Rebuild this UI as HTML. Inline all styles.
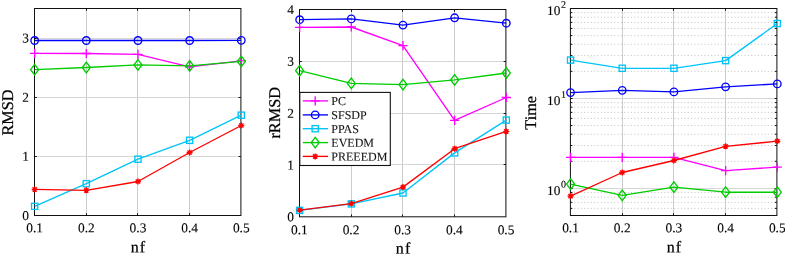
<!DOCTYPE html>
<html><head><meta charset="utf-8"><title>plots</title>
<style>html,body{margin:0;padding:0;background:#fff}svg{display:block}text{stroke:#000;stroke-width:.25px;text-rendering:geometricPrecision}text.lg{stroke-width:.08px;fill:#111}text.lt{stroke-width:.1px}text.tk{stroke-width:.1px}</style></head>
<body>
<svg width="785" height="259" viewBox="0 0 785 259" font-family='"Liberation Serif", "DejaVu Serif", serif' fill="#000">
<rect width="785" height="259" fill="#fff"/>
<line x1="86.5" y1="8.5" x2="86.5" y2="215.5" stroke="#cccccc" stroke-width="1"/>
<line x1="137.5" y1="8.5" x2="137.5" y2="215.5" stroke="#cccccc" stroke-width="1"/>
<line x1="189.5" y1="8.5" x2="189.5" y2="215.5" stroke="#cccccc" stroke-width="1"/>
<line x1="34.5" y1="156.5" x2="240.9" y2="156.5" stroke="#d6d6d6" stroke-width="1"/>
<line x1="34.5" y1="97.5" x2="240.9" y2="97.5" stroke="#d6d6d6" stroke-width="1"/>
<line x1="34.5" y1="38.5" x2="240.9" y2="38.5" stroke="#d6d6d6" stroke-width="1"/>
<path d="M86.5 215.5v-2.3M86.5 8.5v2.3" stroke="#111" stroke-width="1"/>
<path d="M137.5 215.5v-2.3M137.5 8.5v2.3" stroke="#111" stroke-width="1"/>
<path d="M189.5 215.5v-2.3M189.5 8.5v2.3" stroke="#111" stroke-width="1"/>
<path d="M34.5 156.5h2.3M240.9 156.5h-2.3" stroke="#111" stroke-width="1"/>
<path d="M34.5 97.5h2.3M240.9 97.5h-2.3" stroke="#111" stroke-width="1"/>
<path d="M34.5 38.5h2.3M240.9 38.5h-2.3" stroke="#111" stroke-width="1"/>
<rect x="34.5" y="8.5" width="206.4" height="207.0" fill="none" stroke="#111" stroke-width="1"/>
<polyline points="34.65,40.50 86.31,40.50 137.97,40.50 189.64,40.50 241.30,40.30" stroke="#0000ff" stroke-width="1.35" fill="none" stroke-linejoin="round"/><circle cx="34.65" cy="40.50" r="3.75" stroke="#0000ff" stroke-width="1.35" fill="none"/><circle cx="86.31" cy="40.50" r="3.75" stroke="#0000ff" stroke-width="1.35" fill="none"/><circle cx="137.97" cy="40.50" r="3.75" stroke="#0000ff" stroke-width="1.35" fill="none"/><circle cx="189.64" cy="40.50" r="3.75" stroke="#0000ff" stroke-width="1.35" fill="none"/><circle cx="241.30" cy="40.30" r="3.75" stroke="#0000ff" stroke-width="1.35" fill="none"/>
<polyline points="34.65,53.30 86.31,53.50 137.97,54.40 189.64,66.90 241.30,60.90" stroke="#ff00ff" stroke-width="1.35" fill="none" stroke-linejoin="round"/><path d="M30.05 53.30H39.25M34.65 48.70V57.90" stroke="#ff00ff" stroke-width="1.35" fill="none"/><path d="M81.71 53.50H90.91M86.31 48.90V58.10" stroke="#ff00ff" stroke-width="1.35" fill="none"/><path d="M133.38 54.40H142.57M137.97 49.80V59.00" stroke="#ff00ff" stroke-width="1.35" fill="none"/><path d="M185.04 66.90H194.24M189.64 62.30V71.50" stroke="#ff00ff" stroke-width="1.35" fill="none"/><path d="M236.70 60.90H245.90M241.30 56.30V65.50" stroke="#ff00ff" stroke-width="1.35" fill="none"/>
<polyline points="34.65,69.70 86.31,67.50 137.97,64.90 189.64,65.80 241.30,61.40" stroke="#00cc00" stroke-width="1.35" fill="none" stroke-linejoin="round"/><path d="M30.65 69.70L34.65 64.40L38.65 69.70L34.65 75.00Z" stroke="#00cc00" stroke-width="1.35" fill="none"/><path d="M82.31 67.50L86.31 62.20L90.31 67.50L86.31 72.80Z" stroke="#00cc00" stroke-width="1.35" fill="none"/><path d="M133.97 64.90L137.97 59.60L141.97 64.90L137.97 70.20Z" stroke="#00cc00" stroke-width="1.35" fill="none"/><path d="M185.64 65.80L189.64 60.50L193.64 65.80L189.64 71.10Z" stroke="#00cc00" stroke-width="1.35" fill="none"/><path d="M237.30 61.40L241.30 56.10L245.30 61.40L241.30 66.70Z" stroke="#00cc00" stroke-width="1.35" fill="none"/>
<polyline points="34.65,206.30 86.31,183.70 137.97,159.20 189.64,140.30 241.30,115.20" stroke="#00c4f8" stroke-width="1.35" fill="none" stroke-linejoin="round"/><rect x="31.55" y="203.20" width="6.2" height="6.2" stroke="#00c4f8" stroke-width="1.35" fill="none"/><rect x="83.21" y="180.60" width="6.2" height="6.2" stroke="#00c4f8" stroke-width="1.35" fill="none"/><rect x="134.88" y="156.10" width="6.2" height="6.2" stroke="#00c4f8" stroke-width="1.35" fill="none"/><rect x="186.54" y="137.20" width="6.2" height="6.2" stroke="#00c4f8" stroke-width="1.35" fill="none"/><rect x="238.20" y="112.10" width="6.2" height="6.2" stroke="#00c4f8" stroke-width="1.35" fill="none"/>
<polyline points="34.65,189.40 86.31,190.30 137.97,181.50 189.64,152.50 241.30,125.50" stroke="#ff0000" stroke-width="1.35" fill="none" stroke-linejoin="round"/><path d="M31.65 189.40H37.65M34.65 186.40V192.40M32.53 187.28L36.77 191.52M32.53 191.52L36.77 187.28" stroke="#ff0000" stroke-width="1.35" fill="none"/><path d="M83.31 190.30H89.31M86.31 187.30V193.30M84.19 188.18L88.43 192.42M84.19 192.42L88.43 188.18" stroke="#ff0000" stroke-width="1.35" fill="none"/><path d="M134.97 181.50H140.97M137.97 178.50V184.50M135.85 179.38L140.10 183.62M135.85 183.62L140.10 179.38" stroke="#ff0000" stroke-width="1.35" fill="none"/><path d="M186.64 152.50H192.64M189.64 149.50V155.50M187.52 150.38L191.76 154.62M187.52 154.62L191.76 150.38" stroke="#ff0000" stroke-width="1.35" fill="none"/><path d="M238.30 125.50H244.30M241.30 122.50V128.50M239.18 123.38L243.42 127.62M239.18 127.62L243.42 123.38" stroke="#ff0000" stroke-width="1.35" fill="none"/>
<g transform="translate(34.65,232.35) rotate(0.05)"><text font-size="13.4" text-anchor="middle" class="tk">0.1</text></g>
<g transform="translate(86.31,232.35) rotate(0.05)"><text font-size="13.4" text-anchor="middle" class="tk">0.2</text></g>
<g transform="translate(137.97,232.35) rotate(0.05)"><text font-size="13.4" text-anchor="middle" class="tk">0.3</text></g>
<g transform="translate(189.64,232.35) rotate(0.05)"><text font-size="13.4" text-anchor="middle" class="tk">0.4</text></g>
<g transform="translate(241.30,232.35) rotate(0.05)"><text font-size="13.4" text-anchor="middle" class="tk">0.5</text></g>
<g transform="translate(29.00,220.00) rotate(0.05)"><text font-size="13.4" text-anchor="end" class="tk">0</text></g>
<g transform="translate(29.00,160.86) rotate(0.05)"><text font-size="13.4" text-anchor="end" class="tk">1</text></g>
<g transform="translate(29.00,101.71) rotate(0.05)"><text font-size="13.4" text-anchor="end" class="tk">2</text></g>
<g transform="translate(29.00,42.57) rotate(0.05)"><text font-size="13.4" text-anchor="end" class="tk">3</text></g>
<text transform="translate(13.3,112.5) rotate(-90)" font-size="16.3" text-anchor="middle">RMSD</text>
<g transform="translate(138.50,252.30) rotate(0.05)"><text font-size="16" text-anchor="middle" letter-spacing="1.1">nf</text></g>
<line x1="351.5" y1="9.5" x2="351.5" y2="216.8" stroke="#cccccc" stroke-width="1"/>
<line x1="402.5" y1="9.5" x2="402.5" y2="216.8" stroke="#cccccc" stroke-width="1"/>
<line x1="454.5" y1="9.5" x2="454.5" y2="216.8" stroke="#cccccc" stroke-width="1"/>
<line x1="299.5" y1="164.5" x2="505.9" y2="164.5" stroke="#d6d6d6" stroke-width="1"/>
<line x1="299.5" y1="113.5" x2="505.9" y2="113.5" stroke="#d6d6d6" stroke-width="1"/>
<line x1="299.5" y1="61.5" x2="505.9" y2="61.5" stroke="#d6d6d6" stroke-width="1"/>
<path d="M351.5 216.8v-2.3M351.5 9.5v2.3" stroke="#111" stroke-width="1"/>
<path d="M402.5 216.8v-2.3M402.5 9.5v2.3" stroke="#111" stroke-width="1"/>
<path d="M454.5 216.8v-2.3M454.5 9.5v2.3" stroke="#111" stroke-width="1"/>
<path d="M299.5 164.5h2.3M505.9 164.5h-2.3" stroke="#111" stroke-width="1"/>
<path d="M299.5 113.5h2.3M505.9 113.5h-2.3" stroke="#111" stroke-width="1"/>
<path d="M299.5 61.5h2.3M505.9 61.5h-2.3" stroke="#111" stroke-width="1"/>
<rect x="299.5" y="9.5" width="206.39999999999998" height="207.3" fill="none" stroke="#111" stroke-width="1"/>
<polyline points="299.65,19.70 351.31,18.90 402.98,25.10 454.64,17.80 506.30,23.20" stroke="#0000ff" stroke-width="1.35" fill="none" stroke-linejoin="round"/><circle cx="299.65" cy="19.70" r="3.75" stroke="#0000ff" stroke-width="1.35" fill="none"/><circle cx="351.31" cy="18.90" r="3.75" stroke="#0000ff" stroke-width="1.35" fill="none"/><circle cx="402.98" cy="25.10" r="3.75" stroke="#0000ff" stroke-width="1.35" fill="none"/><circle cx="454.64" cy="17.80" r="3.75" stroke="#0000ff" stroke-width="1.35" fill="none"/><circle cx="506.30" cy="23.20" r="3.75" stroke="#0000ff" stroke-width="1.35" fill="none"/>
<polyline points="299.65,27.40 351.31,27.00 402.98,45.60 454.64,120.30 506.30,97.50" stroke="#ff00ff" stroke-width="1.35" fill="none" stroke-linejoin="round"/><path d="M295.05 27.40H304.25M299.65 22.80V32.00" stroke="#ff00ff" stroke-width="1.35" fill="none"/><path d="M346.71 27.00H355.91M351.31 22.40V31.60" stroke="#ff00ff" stroke-width="1.35" fill="none"/><path d="M398.38 45.60H407.58M402.98 41.00V50.20" stroke="#ff00ff" stroke-width="1.35" fill="none"/><path d="M450.04 120.30H459.24M454.64 115.70V124.90" stroke="#ff00ff" stroke-width="1.35" fill="none"/><path d="M501.70 97.50H510.90M506.30 92.90V102.10" stroke="#ff00ff" stroke-width="1.35" fill="none"/>
<polyline points="299.65,70.70 351.31,83.40 402.98,84.60 454.64,79.90 506.30,73.00" stroke="#00cc00" stroke-width="1.35" fill="none" stroke-linejoin="round"/><path d="M295.65 70.70L299.65 65.40L303.65 70.70L299.65 76.00Z" stroke="#00cc00" stroke-width="1.35" fill="none"/><path d="M347.31 83.40L351.31 78.10L355.31 83.40L351.31 88.70Z" stroke="#00cc00" stroke-width="1.35" fill="none"/><path d="M398.98 84.60L402.98 79.30L406.98 84.60L402.98 89.90Z" stroke="#00cc00" stroke-width="1.35" fill="none"/><path d="M450.64 79.90L454.64 74.60L458.64 79.90L454.64 85.20Z" stroke="#00cc00" stroke-width="1.35" fill="none"/><path d="M502.30 73.00L506.30 67.70L510.30 73.00L506.30 78.30Z" stroke="#00cc00" stroke-width="1.35" fill="none"/>
<polyline points="299.65,210.40 351.31,203.90 402.98,193.00 454.64,152.90 506.30,120.10" stroke="#00c4f8" stroke-width="1.35" fill="none" stroke-linejoin="round"/><rect x="296.55" y="207.30" width="6.2" height="6.2" stroke="#00c4f8" stroke-width="1.35" fill="none"/><rect x="348.21" y="200.80" width="6.2" height="6.2" stroke="#00c4f8" stroke-width="1.35" fill="none"/><rect x="399.88" y="189.90" width="6.2" height="6.2" stroke="#00c4f8" stroke-width="1.35" fill="none"/><rect x="451.54" y="149.80" width="6.2" height="6.2" stroke="#00c4f8" stroke-width="1.35" fill="none"/><rect x="503.20" y="117.00" width="6.2" height="6.2" stroke="#00c4f8" stroke-width="1.35" fill="none"/>
<polyline points="299.65,210.20 351.31,203.60 402.98,187.10 454.64,148.70 506.30,131.40" stroke="#ff0000" stroke-width="1.35" fill="none" stroke-linejoin="round"/><path d="M296.65 210.20H302.65M299.65 207.20V213.20M297.53 208.08L301.77 212.32M297.53 212.32L301.77 208.08" stroke="#ff0000" stroke-width="1.35" fill="none"/><path d="M348.31 203.60H354.31M351.31 200.60V206.60M349.19 201.48L353.43 205.72M349.19 205.72L353.43 201.48" stroke="#ff0000" stroke-width="1.35" fill="none"/><path d="M399.98 187.10H405.98M402.98 184.10V190.10M400.85 184.98L405.10 189.22M400.85 189.22L405.10 184.98" stroke="#ff0000" stroke-width="1.35" fill="none"/><path d="M451.64 148.70H457.64M454.64 145.70V151.70M452.52 146.58L456.76 150.82M452.52 150.82L456.76 146.58" stroke="#ff0000" stroke-width="1.35" fill="none"/><path d="M503.30 131.40H509.30M506.30 128.40V134.40M504.18 129.28L508.42 133.52M504.18 133.52L508.42 129.28" stroke="#ff0000" stroke-width="1.35" fill="none"/>
<g transform="translate(299.35,234.20) rotate(0.05)"><text font-size="13.4" text-anchor="middle" class="tk">0.1</text></g>
<g transform="translate(351.01,234.20) rotate(0.05)"><text font-size="13.4" text-anchor="middle" class="tk">0.2</text></g>
<g transform="translate(402.68,234.20) rotate(0.05)"><text font-size="13.4" text-anchor="middle" class="tk">0.3</text></g>
<g transform="translate(454.34,234.20) rotate(0.05)"><text font-size="13.4" text-anchor="middle" class="tk">0.4</text></g>
<g transform="translate(506.00,234.20) rotate(0.05)"><text font-size="13.4" text-anchor="middle" class="tk">0.5</text></g>
<g transform="translate(294.00,221.30) rotate(0.05)"><text font-size="13.4" text-anchor="end" class="tk">0</text></g>
<g transform="translate(294.00,169.48) rotate(0.05)"><text font-size="13.4" text-anchor="end" class="tk">1</text></g>
<g transform="translate(294.00,117.65) rotate(0.05)"><text font-size="13.4" text-anchor="end" class="tk">2</text></g>
<g transform="translate(294.00,65.82) rotate(0.05)"><text font-size="13.4" text-anchor="end" class="tk">3</text></g>
<g transform="translate(294.00,14.00) rotate(0.05)"><text font-size="13.4" text-anchor="end" class="tk">4</text></g>
<text transform="translate(279.7,112.8) rotate(-90)" font-size="16.3" text-anchor="middle">rRMSD</text>
<g transform="translate(403.60,253.50) rotate(0.05)"><text font-size="16" text-anchor="middle" letter-spacing="1.1">nf</text></g>
<rect x="299.8" y="92.4" width="90.5" height="73.1" fill="#fff" stroke="#111" stroke-width="1.1"/>
<line x1="302.8" y1="100.9" x2="328" y2="100.9" stroke="#ff00ff" stroke-width="1.35"/>
<path d="M310.60 100.90H319.80M315.20 96.30V105.50" stroke="#ff00ff" stroke-width="1.35" fill="none"/>
<g transform="translate(331.30,105.10) rotate(0.05)"><text font-size="12" text-anchor="start" class="lg">PC</text></g>
<line x1="302.8" y1="114.9" x2="328" y2="114.9" stroke="#0000ff" stroke-width="1.35"/>
<circle cx="315.20" cy="114.90" r="3.75" stroke="#0000ff" stroke-width="1.35" fill="none"/>
<g transform="translate(331.30,119.10) rotate(0.05)"><text font-size="12" text-anchor="start" class="lg">SFSDP</text></g>
<line x1="302.8" y1="128.7" x2="328" y2="128.7" stroke="#00c4f8" stroke-width="1.35"/>
<rect x="312.10" y="125.60" width="6.2" height="6.2" stroke="#00c4f8" stroke-width="1.35" fill="none"/>
<g transform="translate(331.30,132.90) rotate(0.05)"><text font-size="12" text-anchor="start" class="lg">PPAS</text></g>
<line x1="302.8" y1="142.6" x2="328" y2="142.6" stroke="#00cc00" stroke-width="1.35"/>
<path d="M311.20 142.60L315.20 137.30L319.20 142.60L315.20 147.90Z" stroke="#00cc00" stroke-width="1.35" fill="none"/>
<g transform="translate(331.30,146.80) rotate(0.05)"><text font-size="12" text-anchor="start" class="lg">EVEDM</text></g>
<line x1="302.8" y1="156.4" x2="328" y2="156.4" stroke="#ff0000" stroke-width="1.35"/>
<path d="M312.20 156.40H318.20M315.20 153.40V159.40M313.08 154.28L317.32 158.52M313.08 158.52L317.32 154.28" stroke="#ff0000" stroke-width="1.35" fill="none"/>
<g transform="translate(331.30,160.60) rotate(0.05)"><text font-size="12" text-anchor="start" class="lg">PREEEDM</text></g>
<line x1="622.5" y1="8.5" x2="622.5" y2="215.5" stroke="#cccccc" stroke-width="1"/>
<line x1="673.5" y1="8.5" x2="673.5" y2="215.5" stroke="#cccccc" stroke-width="1"/>
<line x1="725.5" y1="8.5" x2="725.5" y2="215.5" stroke="#cccccc" stroke-width="1"/>
<line x1="570.4" y1="98.5" x2="776.9" y2="98.5" stroke="#d6d6d6" stroke-width="1"/>
<line x1="570.4" y1="188.5" x2="776.9" y2="188.5" stroke="#d6d6d6" stroke-width="1"/>
<line x1="570.4" y1="208.38" x2="776.9" y2="208.38" stroke="#c8c8c8" stroke-width="1" stroke-dasharray="1.1 2.24" stroke-dashoffset="-0.4"/>
<line x1="570.4" y1="202.35" x2="776.9" y2="202.35" stroke="#c8c8c8" stroke-width="1" stroke-dasharray="1.1 2.24" stroke-dashoffset="-0.4"/>
<line x1="570.4" y1="197.14" x2="776.9" y2="197.14" stroke="#c8c8c8" stroke-width="1" stroke-dasharray="1.1 2.24" stroke-dashoffset="-0.4"/>
<line x1="570.4" y1="192.54" x2="776.9" y2="192.54" stroke="#c8c8c8" stroke-width="1" stroke-dasharray="1.1 2.24" stroke-dashoffset="-0.4"/>
<line x1="570.4" y1="161.34" x2="776.9" y2="161.34" stroke="#c8c8c8" stroke-width="1" stroke-dasharray="1.1 2.24" stroke-dashoffset="-0.4"/>
<line x1="570.4" y1="145.50" x2="776.9" y2="145.50" stroke="#c8c8c8" stroke-width="1" stroke-dasharray="1.1 2.24" stroke-dashoffset="-0.4"/>
<line x1="570.4" y1="134.26" x2="776.9" y2="134.26" stroke="#c8c8c8" stroke-width="1" stroke-dasharray="1.1 2.24" stroke-dashoffset="-0.4"/>
<line x1="570.4" y1="125.54" x2="776.9" y2="125.54" stroke="#c8c8c8" stroke-width="1" stroke-dasharray="1.1 2.24" stroke-dashoffset="-0.4"/>
<line x1="570.4" y1="118.42" x2="776.9" y2="118.42" stroke="#c8c8c8" stroke-width="1" stroke-dasharray="1.1 2.24" stroke-dashoffset="-0.4"/>
<line x1="570.4" y1="112.39" x2="776.9" y2="112.39" stroke="#c8c8c8" stroke-width="1" stroke-dasharray="1.1 2.24" stroke-dashoffset="-0.4"/>
<line x1="570.4" y1="107.18" x2="776.9" y2="107.18" stroke="#c8c8c8" stroke-width="1" stroke-dasharray="1.1 2.24" stroke-dashoffset="-0.4"/>
<line x1="570.4" y1="102.58" x2="776.9" y2="102.58" stroke="#c8c8c8" stroke-width="1" stroke-dasharray="1.1 2.24" stroke-dashoffset="-0.4"/>
<line x1="570.4" y1="71.38" x2="776.9" y2="71.38" stroke="#c8c8c8" stroke-width="1" stroke-dasharray="1.1 2.24" stroke-dashoffset="-0.4"/>
<line x1="570.4" y1="55.54" x2="776.9" y2="55.54" stroke="#c8c8c8" stroke-width="1" stroke-dasharray="1.1 2.24" stroke-dashoffset="-0.4"/>
<line x1="570.4" y1="44.30" x2="776.9" y2="44.30" stroke="#c8c8c8" stroke-width="1" stroke-dasharray="1.1 2.24" stroke-dashoffset="-0.4"/>
<line x1="570.4" y1="35.58" x2="776.9" y2="35.58" stroke="#c8c8c8" stroke-width="1" stroke-dasharray="1.1 2.24" stroke-dashoffset="-0.4"/>
<line x1="570.4" y1="28.46" x2="776.9" y2="28.46" stroke="#c8c8c8" stroke-width="1" stroke-dasharray="1.1 2.24" stroke-dashoffset="-0.4"/>
<line x1="570.4" y1="22.43" x2="776.9" y2="22.43" stroke="#c8c8c8" stroke-width="1" stroke-dasharray="1.1 2.24" stroke-dashoffset="-0.4"/>
<line x1="570.4" y1="17.22" x2="776.9" y2="17.22" stroke="#c8c8c8" stroke-width="1" stroke-dasharray="1.1 2.24" stroke-dashoffset="-0.4"/>
<line x1="570.4" y1="12.62" x2="776.9" y2="12.62" stroke="#c8c8c8" stroke-width="1" stroke-dasharray="1.1 2.24" stroke-dashoffset="-0.4"/>
<path d="M622.5 215.5v-2.3M622.5 8.5v2.3" stroke="#111" stroke-width="1"/>
<path d="M673.5 215.5v-2.3M673.5 8.5v2.3" stroke="#111" stroke-width="1"/>
<path d="M725.5 215.5v-2.3M725.5 8.5v2.3" stroke="#111" stroke-width="1"/>
<path d="M570.4 98.5h2.3M776.9 98.5h-2.3" stroke="#111" stroke-width="1"/>
<path d="M570.4 188.5h2.3M776.9 188.5h-2.3" stroke="#111" stroke-width="1"/>
<path d="M570.4 208.38h2M776.9 208.38h-2" stroke="#111" stroke-width="1"/>
<path d="M570.4 202.35h2M776.9 202.35h-2" stroke="#111" stroke-width="1"/>
<path d="M570.4 197.14h2M776.9 197.14h-2" stroke="#111" stroke-width="1"/>
<path d="M570.4 192.54h2M776.9 192.54h-2" stroke="#111" stroke-width="1"/>
<path d="M570.4 161.34h2M776.9 161.34h-2" stroke="#111" stroke-width="1"/>
<path d="M570.4 145.50h2M776.9 145.50h-2" stroke="#111" stroke-width="1"/>
<path d="M570.4 134.26h2M776.9 134.26h-2" stroke="#111" stroke-width="1"/>
<path d="M570.4 125.54h2M776.9 125.54h-2" stroke="#111" stroke-width="1"/>
<path d="M570.4 118.42h2M776.9 118.42h-2" stroke="#111" stroke-width="1"/>
<path d="M570.4 112.39h2M776.9 112.39h-2" stroke="#111" stroke-width="1"/>
<path d="M570.4 107.18h2M776.9 107.18h-2" stroke="#111" stroke-width="1"/>
<path d="M570.4 102.58h2M776.9 102.58h-2" stroke="#111" stroke-width="1"/>
<path d="M570.4 71.38h2M776.9 71.38h-2" stroke="#111" stroke-width="1"/>
<path d="M570.4 55.54h2M776.9 55.54h-2" stroke="#111" stroke-width="1"/>
<path d="M570.4 44.30h2M776.9 44.30h-2" stroke="#111" stroke-width="1"/>
<path d="M570.4 35.58h2M776.9 35.58h-2" stroke="#111" stroke-width="1"/>
<path d="M570.4 28.46h2M776.9 28.46h-2" stroke="#111" stroke-width="1"/>
<path d="M570.4 22.43h2M776.9 22.43h-2" stroke="#111" stroke-width="1"/>
<path d="M570.4 17.22h2M776.9 17.22h-2" stroke="#111" stroke-width="1"/>
<path d="M570.4 12.62h2M776.9 12.62h-2" stroke="#111" stroke-width="1"/>
<rect x="570.4" y="8.5" width="206.5" height="207.0" fill="none" stroke="#111" stroke-width="1"/>
<polyline points="570.55,60.10 622.24,68.30 673.92,68.30 725.61,60.60 777.30,23.50" stroke="#00c4f8" stroke-width="1.35" fill="none" stroke-linejoin="round"/><rect x="567.45" y="57.00" width="6.2" height="6.2" stroke="#00c4f8" stroke-width="1.35" fill="none"/><rect x="619.14" y="65.20" width="6.2" height="6.2" stroke="#00c4f8" stroke-width="1.35" fill="none"/><rect x="670.82" y="65.20" width="6.2" height="6.2" stroke="#00c4f8" stroke-width="1.35" fill="none"/><rect x="722.51" y="57.50" width="6.2" height="6.2" stroke="#00c4f8" stroke-width="1.35" fill="none"/><rect x="774.20" y="20.40" width="6.2" height="6.2" stroke="#00c4f8" stroke-width="1.35" fill="none"/>
<polyline points="570.55,92.60 622.24,90.30 673.92,91.90 725.61,86.80 777.30,83.90" stroke="#0000ff" stroke-width="1.35" fill="none" stroke-linejoin="round"/><circle cx="570.55" cy="92.60" r="3.75" stroke="#0000ff" stroke-width="1.35" fill="none"/><circle cx="622.24" cy="90.30" r="3.75" stroke="#0000ff" stroke-width="1.35" fill="none"/><circle cx="673.92" cy="91.90" r="3.75" stroke="#0000ff" stroke-width="1.35" fill="none"/><circle cx="725.61" cy="86.80" r="3.75" stroke="#0000ff" stroke-width="1.35" fill="none"/><circle cx="777.30" cy="83.90" r="3.75" stroke="#0000ff" stroke-width="1.35" fill="none"/>
<polyline points="570.55,157.40 622.24,157.40 673.92,157.30 725.61,170.60 777.30,167.10" stroke="#ff00ff" stroke-width="1.35" fill="none" stroke-linejoin="round"/><path d="M565.95 157.40H575.15M570.55 152.80V162.00" stroke="#ff00ff" stroke-width="1.35" fill="none"/><path d="M617.64 157.40H626.84M622.24 152.80V162.00" stroke="#ff00ff" stroke-width="1.35" fill="none"/><path d="M669.32 157.30H678.52M673.92 152.70V161.90" stroke="#ff00ff" stroke-width="1.35" fill="none"/><path d="M721.01 170.60H730.21M725.61 166.00V175.20" stroke="#ff00ff" stroke-width="1.35" fill="none"/><path d="M772.70 167.10H781.90M777.30 162.50V171.70" stroke="#ff00ff" stroke-width="1.35" fill="none"/>
<polyline points="570.55,184.10 622.24,195.30 673.92,187.20 725.61,192.20 777.30,192.20" stroke="#00cc00" stroke-width="1.35" fill="none" stroke-linejoin="round"/><path d="M566.55 184.10L570.55 178.80L574.55 184.10L570.55 189.40Z" stroke="#00cc00" stroke-width="1.35" fill="none"/><path d="M618.24 195.30L622.24 190.00L626.24 195.30L622.24 200.60Z" stroke="#00cc00" stroke-width="1.35" fill="none"/><path d="M669.92 187.20L673.92 181.90L677.92 187.20L673.92 192.50Z" stroke="#00cc00" stroke-width="1.35" fill="none"/><path d="M721.61 192.20L725.61 186.90L729.61 192.20L725.61 197.50Z" stroke="#00cc00" stroke-width="1.35" fill="none"/><path d="M773.30 192.20L777.30 186.90L781.30 192.20L777.30 197.50Z" stroke="#00cc00" stroke-width="1.35" fill="none"/>
<polyline points="570.55,196.10 622.24,172.50 673.92,160.50 725.61,146.30 777.30,141.20" stroke="#ff0000" stroke-width="1.35" fill="none" stroke-linejoin="round"/><path d="M567.55 196.10H573.55M570.55 193.10V199.10M568.43 193.98L572.67 198.22M568.43 198.22L572.67 193.98" stroke="#ff0000" stroke-width="1.35" fill="none"/><path d="M619.24 172.50H625.24M622.24 169.50V175.50M620.12 170.38L624.36 174.62M620.12 174.62L624.36 170.38" stroke="#ff0000" stroke-width="1.35" fill="none"/><path d="M670.92 160.50H676.92M673.92 157.50V163.50M671.80 158.38L676.05 162.62M671.80 162.62L676.05 158.38" stroke="#ff0000" stroke-width="1.35" fill="none"/><path d="M722.61 146.30H728.61M725.61 143.30V149.30M723.49 144.18L727.73 148.42M723.49 148.42L727.73 144.18" stroke="#ff0000" stroke-width="1.35" fill="none"/><path d="M774.30 141.20H780.30M777.30 138.20V144.20M775.18 139.08L779.42 143.32M775.18 143.32L779.42 139.08" stroke="#ff0000" stroke-width="1.35" fill="none"/>
<g transform="translate(570.55,232.35) rotate(0.05)"><text font-size="13.4" text-anchor="middle" class="tk">0.1</text></g>
<g transform="translate(622.24,232.35) rotate(0.05)"><text font-size="13.4" text-anchor="middle" class="tk">0.2</text></g>
<g transform="translate(673.92,232.35) rotate(0.05)"><text font-size="13.4" text-anchor="middle" class="tk">0.3</text></g>
<g transform="translate(725.61,232.35) rotate(0.05)"><text font-size="13.4" text-anchor="middle" class="tk">0.4</text></g>
<g transform="translate(777.30,232.35) rotate(0.05)"><text font-size="13.4" text-anchor="middle" class="tk">0.5</text></g>
<g transform="translate(560.40,15.10) rotate(0.05)"><text font-size="13.3" text-anchor="end" class="lt">10</text></g>
<g transform="translate(561.10,7.70) rotate(0.05)"><text font-size="10" text-anchor="start" class="lt">2</text></g>
<g transform="translate(560.40,105.06) rotate(0.05)"><text font-size="13.3" text-anchor="end" class="lt">10</text></g>
<g transform="translate(561.10,97.66) rotate(0.05)"><text font-size="10" text-anchor="start" class="lt">1</text></g>
<g transform="translate(560.40,195.02) rotate(0.05)"><text font-size="13.3" text-anchor="end" class="lt">10</text></g>
<g transform="translate(561.10,187.62) rotate(0.05)"><text font-size="10" text-anchor="start" class="lt">0</text></g>
<text transform="translate(536.2,112.8) rotate(-90)" font-size="16.3" text-anchor="middle">Time</text>
<g transform="translate(674.50,252.30) rotate(0.05)"><text font-size="16" text-anchor="middle" letter-spacing="1.1">nf</text></g>
</svg>
</body></html>
